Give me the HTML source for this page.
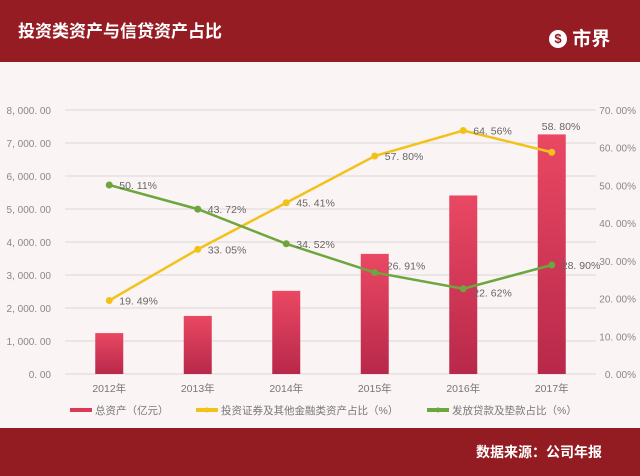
<!DOCTYPE html>
<html><head><meta charset="utf-8"><style>
body{margin:0;width:640px;height:476px;overflow:hidden;background:#931c22;font-family:"Liberation Sans","Noto Sans CJK SC",sans-serif}
#hdr{position:absolute;left:0;top:0;width:640px;height:62px;background:#941c22}
#title{position:absolute;left:18px;top:17px;color:#fff;font-size:17px;font-weight:bold}
#logo{position:absolute;left:549px;top:24px;color:#fff;font-size:19px;font-weight:bold}
#chart{position:absolute;left:0;top:62px;width:640px;height:366px;background:#fbf4f4}
#src{position:absolute;right:38px;top:442px;color:#fff;font-size:14px;font-weight:bold}
</style></head><body>
<div id="hdr"><div id="title">投资类资产与信贷资产占比</div>
<div id="logo"><span style="display:inline-block;width:18px;height:18px;border-radius:50%;background:#fff;color:#941c22;font-size:13px;text-align:center;line-height:18px;vertical-align:2px">$</span> 市界</div></div>
<div id="chart"></div>
<svg id="svg" width="640" height="476" style="position:absolute;left:0;top:0">
<defs><linearGradient id="bg" x1="0" y1="0" x2="0" y2="1"><stop offset="0" stop-color="#ea4863"/><stop offset="1" stop-color="#b8284a"/></linearGradient></defs>
</svg>
<div id="src">数据来源：公司年报</div>
<script>
const categories=["2012年","2013年","2014年","2015年","2016年","2017年"];
const totalAssets=[1240,1760,2520,3640,5410,7260];
const investPct=[19.49,33.05,45.41,57.80,64.56,58.80];
const loanPct=[50.11,43.72,34.52,26.91,22.62,28.90];
const leftTicks=[0,1000,2000,3000,4000,5000,6000,7000,8000];
const rightTicks=[0,10,20,30,40,50,60,70];
const svg=document.getElementById('svg');const NS='http://www.w3.org/2000/svg';
const x0=65,x1=596,yb=374,yt=110;
const xs=i=>x0+(x1-x0)/categories.length*(i+0.5);
const yl=v=>yb-(yb-yt)*v/8000;
const yr=v=>yb-(yb-yt)*v/70;
function mk(t,a,txt){const e=document.createElementNS(NS,t);for(const k in a)e.setAttribute(k,a[k]);if(txt!=null)e.textContent=txt;svg.appendChild(e);return e;}
const fmt=v=>v.toLocaleString('en-US',{minimumFractionDigits:2}).replace(/,/g,', ').replace('.','. ');
const pf=v=>v.toFixed(2).replace('.','. ')+'%';
leftTicks.forEach(v=>{
 const g=mk('line',{x1:x0,x2:x1,y1:yl(v),y2:yl(v),stroke:'#dcd6d6','stroke-width':1});
 
 
 const t=mk('text',{x:51,y:yl(v)+4,'text-anchor':'end','font-size':10,fill:'#888'},fmt(v));
 
 
});
rightTicks.forEach(v=>{
 const t=mk('text',{x:636,y:yr(v)+4,'text-anchor':'end','font-size':10,fill:'#888'},pf(v));
 
 
});
categories.forEach((c,i)=>{
 const b=mk('rect',{x:xs(i)-14,y:yl(totalAssets[i]),width:28,height:yb-yl(totalAssets[i]),fill:'url(#bg)'});
 
 
 const t=mk('text',{x:xs(i),y:392,'text-anchor':'middle','font-size':10.5,fill:'#777'},c);
 
 
});
function series(vals,col,name,off){
 const p=mk('polyline',{points:vals.map((v,i)=>xs(i)+','+yr(v)).join(' '),fill:'none',stroke:col,'stroke-width':2.5});
 
 
 vals.forEach((v,i)=>{
  const c=mk('circle',{cx:xs(i),cy:yr(v),r:3.5,fill:col});
  
  
  const o=off[i]||[10,4];
  const t=mk('text',{x:xs(i)+o[0],y:yr(v)+o[1],'font-size':10.5,fill:'#666'},pf(v));
  
  
 });
}
series(investPct,'#f2c21b','invest-pct',{5:[-10,-22]});
series(loanPct,'#6da63e','loan-pct',{3:[12,-3],4:[10,8]});
const lg=[[70,'#d93a5a','总资产（亿元）',0],[196,'#f2c21b','投资证券及其他金融类资产占比（%）',1],[427,'#6da63e','发放贷款及垫款占比（%）',1]];
lg.forEach(l=>{
 const r=mk('rect',{x:l[0],y:408,width:22,height:4,fill:l[1]});
 
 
 if(l[3])mk('circle',{cx:l[0]+11,cy:410,r:2.5,fill:l[1]});
 const t=mk('text',{x:l[0]+25,y:414,'font-size':10.5,fill:'#777'},l[2]);
 
 
});
</script>
</body></html>
